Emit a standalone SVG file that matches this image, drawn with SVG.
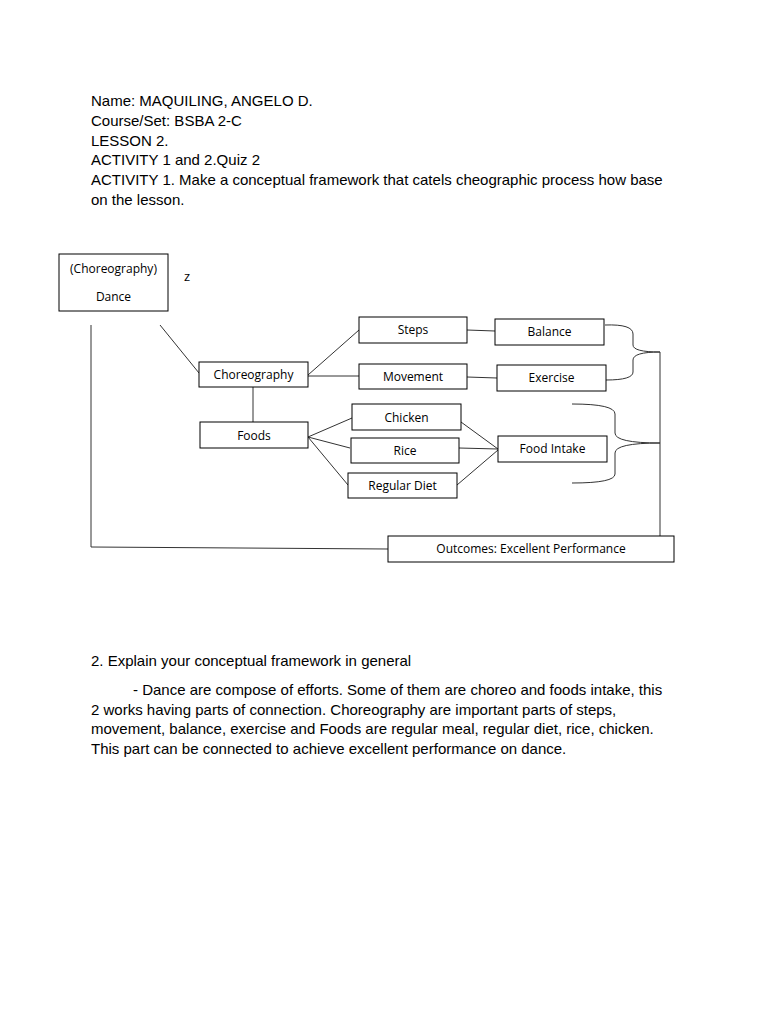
<svg xmlns="http://www.w3.org/2000/svg" width="768" height="1024" viewBox="0 0 768 1024">
<style>
.doc{font-family:"Liberation Sans",Arial,sans-serif;font-size:15px;fill:#000}
.box{fill:#fff;stroke:#000;stroke-width:1}
.lbl{font-family:"Open Sans","Liberation Sans",sans-serif;font-size:12px;fill:#000;text-anchor:middle}
.ln{fill:none;stroke:#333;stroke-width:1}
</style>
<rect width="768" height="1024" fill="#fff"/>
<g id="header">
<text class="doc" x="91" y="106">Name: MAQUILING, ANGELO D.</text>
<text class="doc" x="91" y="126">Course/Set: BSBA 2-C</text>
<text class="doc" x="91" y="146">LESSON 2.</text>
<text class="doc" x="91" y="165">ACTIVITY 1 and 2.Quiz 2</text>
<text class="doc" x="91" y="185">ACTIVITY 1. Make a conceptual framework that catels cheographic process how base</text>
<text class="doc" x="91" y="205">on the lesson.</text>
</g>
<g id="connectors">
<path class="ln" d="M160,325 L199,373"/>
<path class="ln" d="M91,325 L91,547 L388,549"/>
<path class="ln" d="M308,375 L359,330"/>
<path class="ln" d="M308,376 L359,376"/>
<path class="ln" d="M467,330 L495,331"/>
<path class="ln" d="M467,377 L497,378"/>
<path class="ln" d="M253,387 L253,422"/>
<path class="ln" d="M308,437 L352,418"/>
<path class="ln" d="M308,437 L350,448"/>
<path class="ln" d="M308,437 L348,485"/>
<path class="ln" d="M461,422 L498,449"/>
<path class="ln" d="M459,448 L498,449"/>
<path class="ln" d="M457,485 L498,450"/>
<path class="ln" d="M660,352 L660,536"/>
<path class="ln" d="M605,325 Q633,324 633,334 L633,345 Q633,352 660,352 Q633,352 633,360 L633,372 Q633,380 606,380"/>
<path class="ln" d="M572,404 Q615,404 615,414 L615,433 Q615,443 660,443 Q615,443 615,453 L615,474 Q615,483 572,483"/>
</g>
<g id="n-dance">
<rect class="box" x="59" y="254" width="109" height="57"/>
<text class="lbl" x="113.5" y="273">(Choreography)</text>
<text class="lbl" x="113.5" y="301">Dance</text>
</g>
<g id="z-mark"><text class="lbl" x="187" y="281" style="font-size:13px">z</text></g>
<g id="n-choreography">
<rect class="box" x="199" y="362" width="109" height="25"/>
<text class="lbl" x="253.5" y="379">Choreography</text>
</g>
<g id="n-steps">
<rect class="box" x="359" y="317" width="108" height="26"/>
<text class="lbl" x="413" y="334">Steps</text>
</g>
<g id="n-balance">
<rect class="box" x="495" y="319" width="109" height="26"/>
<text class="lbl" x="549.5" y="336">Balance</text>
</g>
<g id="n-movement">
<rect class="box" x="359" y="364" width="108" height="25"/>
<text class="lbl" x="413" y="381">Movement</text>
</g>
<g id="n-exercise">
<rect class="box" x="497" y="365" width="109" height="26"/>
<text class="lbl" x="551.5" y="382">Exercise</text>
</g>
<g id="n-foods">
<rect class="box" x="200" y="422" width="108" height="26"/>
<text class="lbl" x="254" y="440">Foods</text>
</g>
<g id="n-chicken">
<rect class="box" x="352" y="404" width="109" height="26"/>
<text class="lbl" x="406.5" y="422">Chicken</text>
</g>
<g id="n-rice">
<rect class="box" x="351" y="438" width="108" height="25"/>
<text class="lbl" x="405" y="455">Rice</text>
</g>
<g id="n-regular-diet">
<rect class="box" x="348" y="473" width="109" height="25"/>
<text class="lbl" x="402.5" y="490">Regular Diet</text>
</g>
<g id="n-food-intake">
<rect class="box" x="498" y="436" width="109" height="26"/>
<text class="lbl" x="552.5" y="453">Food Intake</text>
</g>
<g id="n-outcomes">
<rect class="box" x="388" y="536" width="286" height="26"/>
<text class="lbl" x="531" y="553">Outcomes: Excellent Performance</text>
</g>
<g id="explanation">
<text class="doc" x="91" y="666">2. Explain your conceptual framework in general</text>
<text class="doc" x="133" y="695">- Dance are compose of efforts. Some of them are choreo and foods intake, this</text>
<text class="doc" x="91" y="715">2 works having parts of connection. Choreography are important parts of steps,</text>
<text class="doc" x="91" y="734">movement, balance, exercise and Foods are regular meal, regular diet, rice, chicken.</text>
<text class="doc" x="91" y="754">This part can be connected to achieve excellent performance on dance.</text>
</g>
</svg>
